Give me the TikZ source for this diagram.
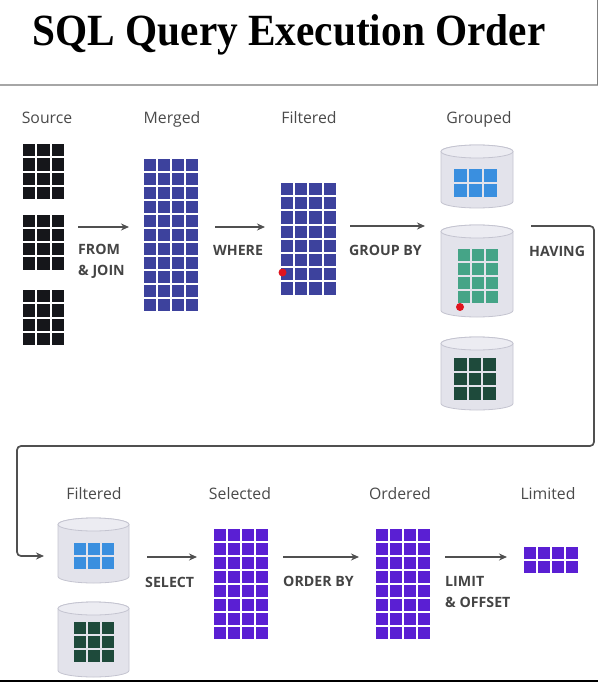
\documentclass[tikz,border=0pt]{standalone}
\usepackage{fontspec}
\setmainfont{Open Sans}
\newfontfamily\titlefont{Liberation Serif}
\usetikzlibrary{arrows.meta}

\definecolor{cellblack}{HTML}{15161A}
\definecolor{cellblue}{HTML}{3D429D}
\definecolor{cellpurple}{HTML}{5A1FD3}
\definecolor{celllight}{HTML}{3A8FDF}
\definecolor{cellteal}{HTML}{45A487}
\definecolor{cellgreen}{HTML}{1E4A3B}
\definecolor{drumgray}{HTML}{E3E3EB}
\definecolor{drumtop}{HTML}{ECECF2}
\definecolor{drumedge}{HTML}{C4C4D0}
\definecolor{labelgray}{HTML}{4A4A4A}
\definecolor{opgray}{HTML}{444444}
\definecolor{linegray}{HTML}{505050}
\definecolor{dotred}{HTML}{E0141E}

% x, y, columns, rows, pitch, colour
\newcommand{\cellgrid}[6]{%
  \foreach \gx in {1,...,#3}
    \foreach \gy in {1,...,#4}
      \fill[#6] ({#1+(\gx-1)*#5},{#2+(\gy-1)*#5}) rectangle +({#5-2},{#5-2});
}
% centre x, top, bottom, radius
\newcommand{\drumshape}[4]{%
  \draw[drum] ({#1-#4},#2) -- ({#1-#4},#3)
    arc[start angle=180, end angle=0, x radius=#4, y radius=6.5]
    -- ({#1+#4},#2)
    arc[start angle=0, end angle=-180, x radius=#4, y radius=6.5] -- cycle;
  \draw[drum, fill=drumtop] (#1,#2) ellipse[x radius=#4, y radius=6.5];
}

\tikzset{
  stage/.style={anchor=base, inner sep=0pt, text=labelgray,
    font=\fontsize{15.8}{18}\selectfont},
  op/.style={anchor=west, inner sep=0pt, text=opgray, align=left,
    font=\fontsize{14.2}{21}\selectfont\bfseries},
  flow/.style={draw=linegray, line width=1.7pt, -{Stealth[length=8pt,width=7pt]}},
  drum/.style={fill=drumgray, draw=drumedge, line width=0.8pt},
}

\begin{document}
\begin{tikzpicture}[x=1pt, y=-1pt]
  \useasboundingbox (0,0) rectangle (598,682);

  % title and frame
  \node[anchor=base, inner sep=0pt, yscale=1.08,
    font=\titlefont\fontsize{41.3}{44}\selectfont\bfseries]
    (title) at (289,46) {SQL Query Execution Order};
  \draw[gray!70, line width=1.2pt] (0,85) -- (598,85);
  \draw[gray, line width=0.8pt] (597.4,0) -- (597.4,85);
  \draw[black, line width=2pt] (0,681) -- (598,681);

  % stage names
  \node[stage] (source) at (47,124) {Source};
  \node[stage] (merged) at (172,124) {Merged};
  \node[stage] (filtered) at (309,124) {Filtered};
  \node[stage] (grouped) at (479,124) {Grouped};
  \node[stage] (filtered2) at (94,499) {Filtered};
  \node[stage] (selected) at (240,499) {Selected};
  \node[stage] (ordered) at (400,499) {Ordered};
  \node[stage] (limited) at (548,499) {Limited};

  % tables
  \cellgrid{23}{144}{3}{4}{14.3}{cellblack}
  \cellgrid{23}{214.5}{3}{4}{14.3}{cellblack}
  \cellgrid{23}{290}{3}{4}{14.3}{cellblack}
  \cellgrid{144}{159}{4}{11}{14}{cellblue}
  \cellgrid{281}{183}{4}{8}{14.2}{cellblue}
  \fill[dotred] (282.5,272.5) circle[radius=4];

  % groups
  \drumshape{477}{151.5}{201.5}{36}
  \drumshape{477}{231.5}{310.5}{36}
  \drumshape{477}{343.5}{403.5}{36}
  \cellgrid{454}{169}{3}{2}{15}{celllight}
  \cellgrid{458}{249}{3}{4}{14}{cellteal}
  \cellgrid{454}{358}{3}{3}{14.7}{cellgreen}
  \fill[dotred] (460,307) circle[radius=4];

  \drumshape{93.5}{524.5}{576.5}{35.5}
  \drumshape{93.5}{608.5}{670.5}{35.5}
  \cellgrid{74}{543}{3}{2}{14}{celllight}
  \cellgrid{74}{622}{3}{3}{14}{cellgreen}

  \cellgrid{214}{529}{4}{8}{14}{cellpurple}
  \cellgrid{376}{529}{4}{8}{14}{cellpurple}
  \cellgrid{524}{547}{4}{2}{14}{cellpurple}

  % steps
  \coordinate (join-s) at (78,227);
  \coordinate (join-e) at (129,227);
  \coordinate (where-s) at (215,227);
  \coordinate (where-e) at (265,227);
  \coordinate (group-s) at (350,226);
  \coordinate (group-e) at (425,226);
  \coordinate (having-s) at (531,226);
  \coordinate (having-e) at (44,556);
  \coordinate (select-s) at (147,557);
  \coordinate (select-e) at (197,557);
  \coordinate (order-s) at (283,557);
  \coordinate (order-e) at (359,557);
  \coordinate (limit-s) at (445,557);
  \coordinate (limit-e) at (507,557);

  \draw[flow] (join-s) -- (join-e);
  \draw[flow] (where-s) -- (where-e);
  \draw[flow] (group-s) -- (group-e);
  \draw[flow, rounded corners=4pt] (having-s) -| (594,446) -| (17,556) -- (having-e);
  \draw[flow] (select-s) -- (select-e);
  \draw[flow] (order-s) -- (order-e);
  \draw[flow] (limit-s) -- (limit-e);

  \node[op] (join-lbl) at (78,261) {FROM\\\& JOIN};
  \node[op] (where-lbl) at (213,250) {WHERE};
  \node[op] (group-lbl) at (349,250) {GROUP BY};
  \node[op] (having-lbl) at (529,251) {HAVING};
  \node[op] (select-lbl) at (145,582) {SELECT};
  \node[op] (order-lbl) at (283,581) {ORDER BY};
  \node[op] (limit-lbl) at (445,592) {LIMIT\\\& OFFSET};
\end{tikzpicture}
\end{document}
